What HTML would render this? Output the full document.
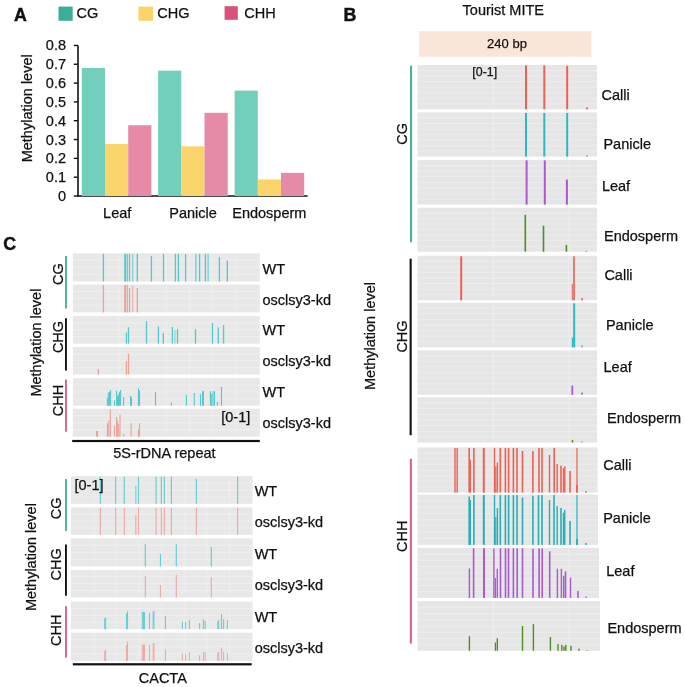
<!DOCTYPE html>
<html><head><meta charset="utf-8"><style>
html,body{margin:0;padding:0;background:#fff;width:685px;height:687px;overflow:hidden}
svg{display:block;will-change:transform}
text{font-family:"Liberation Sans", sans-serif;stroke:#111;stroke-width:0.25px}
</style></head><body>
<svg width="685" height="687" viewBox="0 0 685 687">
<rect width="685" height="687" fill="#fff"/>
<text x="14" y="20.9" font-size="17.8" text-anchor="start" font-weight="bold" fill="#111" style="stroke-width:0.45px" >A</text>
<text x="343.4" y="20.6" font-size="17.8" text-anchor="start" font-weight="bold" fill="#111" style="stroke-width:0.45px" >B</text>
<text x="3.2" y="250.4" font-size="17.8" text-anchor="start" font-weight="bold" fill="#111" style="stroke-width:0.45px" >C</text>
<rect x="58.50" y="6.60" width="14.20" height="14.20" fill="#3DAE96" />
<text x="76.5" y="17.8" font-size="14.5" text-anchor="start" font-weight="normal" fill="#111" >CG</text>
<rect x="138.40" y="6.60" width="14.60" height="14.20" fill="#F9D46B" />
<text x="157.3" y="17.8" font-size="14.5" text-anchor="start" font-weight="normal" fill="#111" >CHG</text>
<rect x="224.60" y="6.20" width="13.20" height="13.60" fill="#D9527C" />
<text x="244.2" y="17.8" font-size="14.5" text-anchor="start" font-weight="normal" fill="#111" >CHH</text>
<line x1="78.0" y1="45.44" x2="78.0" y2="196.70" stroke="#111" stroke-width="1.6"/>
<line x1="77.2" y1="196.0" x2="307.6" y2="196.0" stroke="#111" stroke-width="1.6"/>
<line x1="73.8" y1="196.00" x2="78.0" y2="196.00" stroke="#111" stroke-width="1.4"/>
<text x="66" y="201.0" font-size="14.5" text-anchor="end" font-weight="normal" fill="#111" >0</text>
<line x1="73.8" y1="177.18" x2="78.0" y2="177.18" stroke="#111" stroke-width="1.4"/>
<text x="66" y="182.18" font-size="14.5" text-anchor="end" font-weight="normal" fill="#111" >0.1</text>
<line x1="73.8" y1="158.36" x2="78.0" y2="158.36" stroke="#111" stroke-width="1.4"/>
<text x="66" y="163.36" font-size="14.5" text-anchor="end" font-weight="normal" fill="#111" >0.2</text>
<line x1="73.8" y1="139.54" x2="78.0" y2="139.54" stroke="#111" stroke-width="1.4"/>
<text x="66" y="144.54" font-size="14.5" text-anchor="end" font-weight="normal" fill="#111" >0.3</text>
<line x1="73.8" y1="120.72" x2="78.0" y2="120.72" stroke="#111" stroke-width="1.4"/>
<text x="66" y="125.72" font-size="14.5" text-anchor="end" font-weight="normal" fill="#111" >0.4</text>
<line x1="73.8" y1="101.90" x2="78.0" y2="101.90" stroke="#111" stroke-width="1.4"/>
<text x="66" y="106.9" font-size="14.5" text-anchor="end" font-weight="normal" fill="#111" >0.5</text>
<line x1="73.8" y1="83.08" x2="78.0" y2="83.08" stroke="#111" stroke-width="1.4"/>
<text x="66" y="88.08" font-size="14.5" text-anchor="end" font-weight="normal" fill="#111" >0.6</text>
<line x1="73.8" y1="64.26" x2="78.0" y2="64.26" stroke="#111" stroke-width="1.4"/>
<text x="66" y="69.25999999999999" font-size="14.5" text-anchor="end" font-weight="normal" fill="#111" >0.7</text>
<line x1="73.8" y1="45.44" x2="78.0" y2="45.44" stroke="#111" stroke-width="1.4"/>
<text x="66" y="50.44" font-size="14.5" text-anchor="end" font-weight="normal" fill="#111" >0.8</text>
<text x="0" y="0" transform="translate(31.5,108.3) rotate(-90)" font-size="14.5" text-anchor="middle" font-weight="normal" fill="#111" >Methylation level</text>
<rect x="81.80" y="68.02" width="23.20" height="127.98" fill="#72CFBC" />
<rect x="105.00" y="144.06" width="23.20" height="51.94" fill="#F9D56B" />
<rect x="128.20" y="125.24" width="23.20" height="70.76" fill="#E58BA8" />
<rect x="158.10" y="70.66" width="23.20" height="125.34" fill="#72CFBC" />
<rect x="181.30" y="146.32" width="23.20" height="49.68" fill="#F9D56B" />
<rect x="204.50" y="112.82" width="23.20" height="83.18" fill="#E58BA8" />
<rect x="234.60" y="90.61" width="23.20" height="105.39" fill="#72CFBC" />
<rect x="257.80" y="179.44" width="23.20" height="16.56" fill="#F9D56B" />
<rect x="281.00" y="172.85" width="23.20" height="23.15" fill="#E58BA8" />
<text x="117.2" y="217.8" font-size="14.5" text-anchor="middle" font-weight="normal" fill="#111" >Leaf</text>
<text x="193" y="217.8" font-size="14.5" text-anchor="middle" font-weight="normal" fill="#111" >Panicle</text>
<text x="269.3" y="217.8" font-size="14.5" text-anchor="middle" font-weight="normal" fill="#111" >Endosperm</text>
<text x="503.3" y="15.2" font-size="14.5" text-anchor="middle" font-weight="normal" fill="#111" >Tourist MITE</text>
<rect x="419.00" y="31.20" width="172.60" height="25.60" fill="#FAE5D9" />
<text x="507" y="47.9" font-size="13" text-anchor="middle" font-weight="normal" fill="#111" >240 bp</text>
<rect x="417.50" y="65.00" width="179.50" height="44.30" fill="#E6E6E6" />
<line x1="417.50" y1="70.54" x2="597.00" y2="70.54" stroke="#EDEDED" stroke-width="1"/>
<line x1="417.50" y1="76.08" x2="597.00" y2="76.08" stroke="#EDEDED" stroke-width="1"/>
<line x1="417.50" y1="81.61" x2="597.00" y2="81.61" stroke="#EDEDED" stroke-width="1"/>
<line x1="417.50" y1="87.15" x2="597.00" y2="87.15" stroke="#EDEDED" stroke-width="1"/>
<line x1="417.50" y1="92.69" x2="597.00" y2="92.69" stroke="#EDEDED" stroke-width="1"/>
<line x1="417.50" y1="98.22" x2="597.00" y2="98.22" stroke="#EDEDED" stroke-width="1"/>
<line x1="417.50" y1="103.76" x2="597.00" y2="103.76" stroke="#EDEDED" stroke-width="1"/>
<line x1="493.30" y1="65.00" x2="493.30" y2="109.30" stroke="#EEEEEE" stroke-width="1"/>
<line x1="568.90" y1="65.00" x2="568.90" y2="109.30" stroke="#EEEEEE" stroke-width="1"/>
<rect x="417.50" y="112.40" width="179.50" height="44.20" fill="#E6E6E6" />
<line x1="417.50" y1="117.93" x2="597.00" y2="117.93" stroke="#EDEDED" stroke-width="1"/>
<line x1="417.50" y1="123.45" x2="597.00" y2="123.45" stroke="#EDEDED" stroke-width="1"/>
<line x1="417.50" y1="128.97" x2="597.00" y2="128.97" stroke="#EDEDED" stroke-width="1"/>
<line x1="417.50" y1="134.50" x2="597.00" y2="134.50" stroke="#EDEDED" stroke-width="1"/>
<line x1="417.50" y1="140.03" x2="597.00" y2="140.03" stroke="#EDEDED" stroke-width="1"/>
<line x1="417.50" y1="145.55" x2="597.00" y2="145.55" stroke="#EDEDED" stroke-width="1"/>
<line x1="417.50" y1="151.07" x2="597.00" y2="151.07" stroke="#EDEDED" stroke-width="1"/>
<line x1="493.30" y1="112.40" x2="493.30" y2="156.60" stroke="#EEEEEE" stroke-width="1"/>
<line x1="568.90" y1="112.40" x2="568.90" y2="156.60" stroke="#EEEEEE" stroke-width="1"/>
<rect x="417.50" y="159.90" width="179.50" height="44.70" fill="#E6E6E6" />
<line x1="417.50" y1="165.49" x2="597.00" y2="165.49" stroke="#EDEDED" stroke-width="1"/>
<line x1="417.50" y1="171.07" x2="597.00" y2="171.07" stroke="#EDEDED" stroke-width="1"/>
<line x1="417.50" y1="176.66" x2="597.00" y2="176.66" stroke="#EDEDED" stroke-width="1"/>
<line x1="417.50" y1="182.25" x2="597.00" y2="182.25" stroke="#EDEDED" stroke-width="1"/>
<line x1="417.50" y1="187.84" x2="597.00" y2="187.84" stroke="#EDEDED" stroke-width="1"/>
<line x1="417.50" y1="193.43" x2="597.00" y2="193.43" stroke="#EDEDED" stroke-width="1"/>
<line x1="417.50" y1="199.01" x2="597.00" y2="199.01" stroke="#EDEDED" stroke-width="1"/>
<line x1="493.30" y1="159.90" x2="493.30" y2="204.60" stroke="#EEEEEE" stroke-width="1"/>
<line x1="568.90" y1="159.90" x2="568.90" y2="204.60" stroke="#EEEEEE" stroke-width="1"/>
<rect x="417.50" y="207.70" width="179.50" height="44.00" fill="#E6E6E6" />
<line x1="417.50" y1="213.20" x2="597.00" y2="213.20" stroke="#EDEDED" stroke-width="1"/>
<line x1="417.50" y1="218.70" x2="597.00" y2="218.70" stroke="#EDEDED" stroke-width="1"/>
<line x1="417.50" y1="224.20" x2="597.00" y2="224.20" stroke="#EDEDED" stroke-width="1"/>
<line x1="417.50" y1="229.70" x2="597.00" y2="229.70" stroke="#EDEDED" stroke-width="1"/>
<line x1="417.50" y1="235.20" x2="597.00" y2="235.20" stroke="#EDEDED" stroke-width="1"/>
<line x1="417.50" y1="240.70" x2="597.00" y2="240.70" stroke="#EDEDED" stroke-width="1"/>
<line x1="417.50" y1="246.20" x2="597.00" y2="246.20" stroke="#EDEDED" stroke-width="1"/>
<line x1="493.30" y1="207.70" x2="493.30" y2="251.70" stroke="#EEEEEE" stroke-width="1"/>
<line x1="568.90" y1="207.70" x2="568.90" y2="251.70" stroke="#EEEEEE" stroke-width="1"/>
<rect x="417.50" y="255.80" width="179.50" height="44.50" fill="#E6E6E6" />
<line x1="417.50" y1="261.36" x2="597.00" y2="261.36" stroke="#EDEDED" stroke-width="1"/>
<line x1="417.50" y1="266.93" x2="597.00" y2="266.93" stroke="#EDEDED" stroke-width="1"/>
<line x1="417.50" y1="272.49" x2="597.00" y2="272.49" stroke="#EDEDED" stroke-width="1"/>
<line x1="417.50" y1="278.05" x2="597.00" y2="278.05" stroke="#EDEDED" stroke-width="1"/>
<line x1="417.50" y1="283.61" x2="597.00" y2="283.61" stroke="#EDEDED" stroke-width="1"/>
<line x1="417.50" y1="289.18" x2="597.00" y2="289.18" stroke="#EDEDED" stroke-width="1"/>
<line x1="417.50" y1="294.74" x2="597.00" y2="294.74" stroke="#EDEDED" stroke-width="1"/>
<line x1="493.30" y1="255.80" x2="493.30" y2="300.30" stroke="#EEEEEE" stroke-width="1"/>
<line x1="568.90" y1="255.80" x2="568.90" y2="300.30" stroke="#EEEEEE" stroke-width="1"/>
<rect x="417.50" y="302.80" width="179.50" height="44.50" fill="#E6E6E6" />
<line x1="417.50" y1="308.36" x2="597.00" y2="308.36" stroke="#EDEDED" stroke-width="1"/>
<line x1="417.50" y1="313.93" x2="597.00" y2="313.93" stroke="#EDEDED" stroke-width="1"/>
<line x1="417.50" y1="319.49" x2="597.00" y2="319.49" stroke="#EDEDED" stroke-width="1"/>
<line x1="417.50" y1="325.05" x2="597.00" y2="325.05" stroke="#EDEDED" stroke-width="1"/>
<line x1="417.50" y1="330.61" x2="597.00" y2="330.61" stroke="#EDEDED" stroke-width="1"/>
<line x1="417.50" y1="336.18" x2="597.00" y2="336.18" stroke="#EDEDED" stroke-width="1"/>
<line x1="417.50" y1="341.74" x2="597.00" y2="341.74" stroke="#EDEDED" stroke-width="1"/>
<line x1="493.30" y1="302.80" x2="493.30" y2="347.30" stroke="#EEEEEE" stroke-width="1"/>
<line x1="568.90" y1="302.80" x2="568.90" y2="347.30" stroke="#EEEEEE" stroke-width="1"/>
<rect x="417.50" y="350.30" width="179.50" height="44.50" fill="#E6E6E6" />
<line x1="417.50" y1="355.86" x2="597.00" y2="355.86" stroke="#EDEDED" stroke-width="1"/>
<line x1="417.50" y1="361.43" x2="597.00" y2="361.43" stroke="#EDEDED" stroke-width="1"/>
<line x1="417.50" y1="366.99" x2="597.00" y2="366.99" stroke="#EDEDED" stroke-width="1"/>
<line x1="417.50" y1="372.55" x2="597.00" y2="372.55" stroke="#EDEDED" stroke-width="1"/>
<line x1="417.50" y1="378.11" x2="597.00" y2="378.11" stroke="#EDEDED" stroke-width="1"/>
<line x1="417.50" y1="383.68" x2="597.00" y2="383.68" stroke="#EDEDED" stroke-width="1"/>
<line x1="417.50" y1="389.24" x2="597.00" y2="389.24" stroke="#EDEDED" stroke-width="1"/>
<line x1="493.30" y1="350.30" x2="493.30" y2="394.80" stroke="#EEEEEE" stroke-width="1"/>
<line x1="568.90" y1="350.30" x2="568.90" y2="394.80" stroke="#EEEEEE" stroke-width="1"/>
<rect x="417.50" y="397.30" width="179.50" height="45.30" fill="#E6E6E6" />
<line x1="417.50" y1="402.96" x2="597.00" y2="402.96" stroke="#EDEDED" stroke-width="1"/>
<line x1="417.50" y1="408.62" x2="597.00" y2="408.62" stroke="#EDEDED" stroke-width="1"/>
<line x1="417.50" y1="414.29" x2="597.00" y2="414.29" stroke="#EDEDED" stroke-width="1"/>
<line x1="417.50" y1="419.95" x2="597.00" y2="419.95" stroke="#EDEDED" stroke-width="1"/>
<line x1="417.50" y1="425.61" x2="597.00" y2="425.61" stroke="#EDEDED" stroke-width="1"/>
<line x1="417.50" y1="431.28" x2="597.00" y2="431.28" stroke="#EDEDED" stroke-width="1"/>
<line x1="417.50" y1="436.94" x2="597.00" y2="436.94" stroke="#EDEDED" stroke-width="1"/>
<line x1="493.30" y1="397.30" x2="493.30" y2="442.60" stroke="#EEEEEE" stroke-width="1"/>
<line x1="568.90" y1="397.30" x2="568.90" y2="442.60" stroke="#EEEEEE" stroke-width="1"/>
<rect x="417.50" y="447.40" width="180.00" height="45.20" fill="#E6E6E6" />
<line x1="417.50" y1="453.05" x2="597.50" y2="453.05" stroke="#EDEDED" stroke-width="1"/>
<line x1="417.50" y1="458.70" x2="597.50" y2="458.70" stroke="#EDEDED" stroke-width="1"/>
<line x1="417.50" y1="464.35" x2="597.50" y2="464.35" stroke="#EDEDED" stroke-width="1"/>
<line x1="417.50" y1="470.00" x2="597.50" y2="470.00" stroke="#EDEDED" stroke-width="1"/>
<line x1="417.50" y1="475.65" x2="597.50" y2="475.65" stroke="#EDEDED" stroke-width="1"/>
<line x1="417.50" y1="481.30" x2="597.50" y2="481.30" stroke="#EDEDED" stroke-width="1"/>
<line x1="417.50" y1="486.95" x2="597.50" y2="486.95" stroke="#EDEDED" stroke-width="1"/>
<line x1="493.30" y1="447.40" x2="493.30" y2="492.60" stroke="#EEEEEE" stroke-width="1"/>
<line x1="568.90" y1="447.40" x2="568.90" y2="492.60" stroke="#EEEEEE" stroke-width="1"/>
<rect x="417.50" y="494.60" width="180.50" height="50.30" fill="#E6E6E6" />
<line x1="417.50" y1="500.89" x2="598.00" y2="500.89" stroke="#EDEDED" stroke-width="1"/>
<line x1="417.50" y1="507.18" x2="598.00" y2="507.18" stroke="#EDEDED" stroke-width="1"/>
<line x1="417.50" y1="513.46" x2="598.00" y2="513.46" stroke="#EDEDED" stroke-width="1"/>
<line x1="417.50" y1="519.75" x2="598.00" y2="519.75" stroke="#EDEDED" stroke-width="1"/>
<line x1="417.50" y1="526.04" x2="598.00" y2="526.04" stroke="#EDEDED" stroke-width="1"/>
<line x1="417.50" y1="532.33" x2="598.00" y2="532.33" stroke="#EDEDED" stroke-width="1"/>
<line x1="417.50" y1="538.61" x2="598.00" y2="538.61" stroke="#EDEDED" stroke-width="1"/>
<line x1="493.30" y1="494.60" x2="493.30" y2="544.90" stroke="#EEEEEE" stroke-width="1"/>
<line x1="568.90" y1="494.60" x2="568.90" y2="544.90" stroke="#EEEEEE" stroke-width="1"/>
<rect x="417.50" y="547.80" width="181.50" height="50.10" fill="#E6E6E6" />
<line x1="417.50" y1="554.06" x2="599.00" y2="554.06" stroke="#EDEDED" stroke-width="1"/>
<line x1="417.50" y1="560.32" x2="599.00" y2="560.32" stroke="#EDEDED" stroke-width="1"/>
<line x1="417.50" y1="566.59" x2="599.00" y2="566.59" stroke="#EDEDED" stroke-width="1"/>
<line x1="417.50" y1="572.85" x2="599.00" y2="572.85" stroke="#EDEDED" stroke-width="1"/>
<line x1="417.50" y1="579.11" x2="599.00" y2="579.11" stroke="#EDEDED" stroke-width="1"/>
<line x1="417.50" y1="585.38" x2="599.00" y2="585.38" stroke="#EDEDED" stroke-width="1"/>
<line x1="417.50" y1="591.64" x2="599.00" y2="591.64" stroke="#EDEDED" stroke-width="1"/>
<line x1="493.30" y1="547.80" x2="493.30" y2="597.90" stroke="#EEEEEE" stroke-width="1"/>
<line x1="568.90" y1="547.80" x2="568.90" y2="597.90" stroke="#EEEEEE" stroke-width="1"/>
<rect x="417.50" y="601.10" width="182.50" height="49.70" fill="#E6E6E6" />
<line x1="417.50" y1="607.31" x2="600.00" y2="607.31" stroke="#EDEDED" stroke-width="1"/>
<line x1="417.50" y1="613.52" x2="600.00" y2="613.52" stroke="#EDEDED" stroke-width="1"/>
<line x1="417.50" y1="619.74" x2="600.00" y2="619.74" stroke="#EDEDED" stroke-width="1"/>
<line x1="417.50" y1="625.95" x2="600.00" y2="625.95" stroke="#EDEDED" stroke-width="1"/>
<line x1="417.50" y1="632.16" x2="600.00" y2="632.16" stroke="#EDEDED" stroke-width="1"/>
<line x1="417.50" y1="638.38" x2="600.00" y2="638.38" stroke="#EDEDED" stroke-width="1"/>
<line x1="417.50" y1="644.59" x2="600.00" y2="644.59" stroke="#EDEDED" stroke-width="1"/>
<line x1="493.30" y1="601.10" x2="493.30" y2="650.80" stroke="#EEEEEE" stroke-width="1"/>
<line x1="568.90" y1="601.10" x2="568.90" y2="650.80" stroke="#EEEEEE" stroke-width="1"/>
<rect x="525.00" y="65.50" width="2.00" height="43.80" fill="#EE6152" />
<rect x="543.30" y="65.50" width="2.00" height="43.80" fill="#EE6152" />
<rect x="566.20" y="66.00" width="2.00" height="43.30" fill="#EE6152" />
<rect x="586.00" y="107.50" width="2.00" height="1.80" fill="#EE6152" />
<rect x="525.00" y="112.90" width="2.00" height="43.70" fill="#2DB9C3" />
<rect x="543.30" y="112.90" width="2.00" height="43.70" fill="#2DB9C3" />
<rect x="566.20" y="112.90" width="2.00" height="43.70" fill="#2DB9C3" />
<rect x="586.25" y="155.30" width="1.50" height="1.30" fill="#2DB9C3" />
<rect x="525.60" y="160.40" width="2.00" height="44.20" fill="#AC58D2" />
<rect x="543.80" y="160.40" width="2.00" height="44.20" fill="#AC58D2" />
<rect x="565.90" y="179.60" width="2.00" height="25.00" fill="#AC58D2" />
<rect x="524.50" y="214.80" width="1.60" height="36.90" fill="#4F8F1F" />
<rect x="542.70" y="225.70" width="1.60" height="26.00" fill="#4F8F1F" />
<rect x="565.60" y="244.90" width="1.60" height="6.80" fill="#4F8F1F" />
<rect x="585.80" y="250.80" width="1.20" height="0.90" fill="#4F8F1F" />
<text x="601.5" y="99.8" font-size="14.5" text-anchor="start" font-weight="normal" fill="#111" >Calli</text>
<text x="603.4" y="149.2" font-size="14.5" text-anchor="start" font-weight="normal" fill="#111" >Panicle</text>
<text x="601.9" y="191.3" font-size="14.5" text-anchor="start" font-weight="normal" fill="#111" >Leaf</text>
<text x="604.0" y="240.7" font-size="14.5" text-anchor="start" font-weight="normal" fill="#111" >Endosperm</text>
<rect x="460.20" y="256.30" width="2.00" height="44.00" fill="#EE6152" />
<rect x="573.00" y="256.30" width="2.00" height="44.00" fill="#EA7A70" />
<rect x="571.75" y="284.00" width="1.50" height="16.30" fill="#EA7A70" />
<rect x="581.25" y="298.00" width="1.50" height="2.30" fill="#EE6152" />
<rect x="573.20" y="303.30" width="2.00" height="44.00" fill="#2DB9C3" />
<rect x="571.85" y="337.50" width="1.50" height="9.80" fill="#2DB9C3" />
<rect x="581.25" y="345.50" width="1.50" height="1.80" fill="#2DB9C3" />
<rect x="571.40" y="385.60" width="1.80" height="9.20" fill="#AC58D2" />
<rect x="581.25" y="392.50" width="1.50" height="2.30" fill="#AC58D2" />
<rect x="571.75" y="440.00" width="1.50" height="2.60" fill="#4F8F1F" />
<rect x="581.50" y="441.50" width="1.00" height="1.10" fill="#4F8F1F" />
<text x="604.4" y="279.9" font-size="14.5" text-anchor="start" font-weight="normal" fill="#111" >Calli</text>
<text x="605.9" y="329.8" font-size="14.5" text-anchor="start" font-weight="normal" fill="#111" >Panicle</text>
<text x="603.5" y="371.9" font-size="14.5" text-anchor="start" font-weight="normal" fill="#111" >Leaf</text>
<text x="607.0" y="422.5" font-size="14.5" text-anchor="start" font-weight="normal" fill="#111" >Endosperm</text>
<rect x="454.30" y="447.90" width="1.40" height="44.70" fill="#EE6152" />
<rect x="456.50" y="447.90" width="1.40" height="44.70" fill="#EE6152" />
<rect x="468.40" y="447.90" width="1.60" height="44.70" fill="#EE6152" />
<rect x="469.80" y="459.70" width="1.20" height="32.90" fill="#EE6152" />
<rect x="473.10" y="447.90" width="1.60" height="44.70" fill="#EE6152" />
<rect x="482.80" y="447.90" width="2.00" height="44.70" fill="#EE6152" />
<rect x="493.80" y="447.90" width="1.40" height="44.70" fill="#EE6152" />
<rect x="495.20" y="466.30" width="1.20" height="26.30" fill="#EE6152" />
<rect x="496.70" y="462.60" width="1.40" height="30.00" fill="#EE6152" />
<rect x="499.50" y="447.90" width="1.60" height="44.70" fill="#EE6152" />
<rect x="504.60" y="447.90" width="1.60" height="44.70" fill="#EE6152" />
<rect x="507.80" y="447.90" width="1.60" height="44.70" fill="#EE6152" />
<rect x="512.60" y="447.90" width="1.60" height="44.70" fill="#EE6152" />
<rect x="516.20" y="447.90" width="1.60" height="44.70" fill="#EE6152" />
<rect x="521.70" y="451.00" width="1.60" height="41.60" fill="#EE6152" />
<rect x="532.10" y="451.10" width="1.60" height="41.50" fill="#EE6152" />
<rect x="538.20" y="447.90" width="1.60" height="44.70" fill="#EE6152" />
<rect x="541.20" y="447.90" width="1.60" height="44.70" fill="#EE6152" />
<rect x="548.80" y="455.00" width="1.40" height="37.60" fill="#EE6152" />
<rect x="553.40" y="447.90" width="1.60" height="44.70" fill="#EE6152" />
<rect x="556.50" y="464.00" width="1.40" height="28.60" fill="#EE6152" />
<rect x="560.20" y="465.70" width="1.60" height="26.90" fill="#EE6152" />
<rect x="562.80" y="468.00" width="1.40" height="24.60" fill="#EE6152" />
<rect x="564.10" y="466.30" width="1.40" height="26.30" fill="#EE6152" />
<rect x="569.20" y="471.00" width="1.60" height="21.60" fill="#EE6152" />
<rect x="576.10" y="447.90" width="1.80" height="44.70" fill="#F08A7E" />
<rect x="576.10" y="485.00" width="1.80" height="7.60" fill="#EE6152" />
<rect x="585.20" y="491.00" width="1.60" height="1.60" fill="#EE6152" />
<rect x="468.40" y="496.60" width="1.60" height="48.30" fill="#28AEB9" />
<rect x="469.80" y="500.00" width="1.20" height="44.90" fill="#28AEB9" />
<rect x="473.10" y="495.10" width="1.60" height="49.80" fill="#28AEB9" />
<rect x="482.80" y="495.10" width="2.00" height="49.80" fill="#28AEB9" />
<rect x="493.80" y="495.10" width="1.40" height="49.80" fill="#28AEB9" />
<rect x="495.20" y="517.00" width="1.20" height="27.90" fill="#28AEB9" />
<rect x="496.70" y="508.00" width="1.40" height="36.90" fill="#28AEB9" />
<rect x="499.50" y="495.10" width="1.60" height="49.80" fill="#28AEB9" />
<rect x="504.60" y="495.10" width="1.60" height="49.80" fill="#28AEB9" />
<rect x="507.80" y="495.10" width="1.60" height="49.80" fill="#28AEB9" />
<rect x="512.60" y="495.10" width="1.60" height="49.80" fill="#28AEB9" />
<rect x="516.20" y="495.10" width="1.60" height="49.80" fill="#28AEB9" />
<rect x="521.70" y="497.50" width="1.60" height="47.40" fill="#28AEB9" />
<rect x="532.10" y="495.80" width="1.60" height="49.10" fill="#28AEB9" />
<rect x="537.70" y="495.10" width="1.60" height="49.80" fill="#28AEB9" />
<rect x="541.20" y="495.10" width="1.60" height="49.80" fill="#28AEB9" />
<rect x="548.80" y="500.00" width="1.40" height="44.90" fill="#28AEB9" />
<rect x="553.20" y="495.10" width="1.60" height="49.80" fill="#28AEB9" />
<rect x="556.50" y="506.00" width="1.40" height="38.90" fill="#28AEB9" />
<rect x="560.20" y="507.90" width="1.60" height="37.00" fill="#28AEB9" />
<rect x="562.80" y="512.80" width="1.40" height="32.10" fill="#28AEB9" />
<rect x="564.00" y="510.00" width="1.40" height="34.90" fill="#28AEB9" />
<rect x="569.20" y="521.00" width="1.60" height="23.90" fill="#28AEB9" />
<rect x="576.10" y="495.10" width="1.80" height="49.80" fill="#5CC8D2" />
<rect x="576.10" y="539.00" width="1.80" height="5.90" fill="#28AEB9" />
<rect x="585.20" y="543.00" width="1.60" height="1.90" fill="#28AEB9" />
<rect x="468.70" y="568.50" width="1.40" height="29.40" fill="#AC58D2" />
<rect x="472.80" y="548.30" width="1.60" height="49.60" fill="#AC58D2" />
<rect x="483.00" y="548.30" width="2.00" height="49.60" fill="#AC58D2" />
<rect x="493.20" y="548.30" width="1.40" height="49.60" fill="#AC58D2" />
<rect x="494.80" y="578.00" width="1.20" height="19.90" fill="#AC58D2" />
<rect x="496.60" y="568.80" width="1.40" height="29.10" fill="#AC58D2" />
<rect x="499.70" y="548.30" width="1.60" height="49.60" fill="#AC58D2" />
<rect x="504.70" y="548.30" width="1.60" height="49.60" fill="#AC58D2" />
<rect x="507.70" y="548.30" width="1.60" height="49.60" fill="#AC58D2" />
<rect x="512.60" y="548.30" width="1.60" height="49.60" fill="#AC58D2" />
<rect x="516.40" y="548.30" width="1.60" height="49.60" fill="#AC58D2" />
<rect x="521.70" y="548.30" width="1.60" height="49.60" fill="#AC58D2" />
<rect x="532.20" y="548.70" width="1.60" height="49.20" fill="#AC58D2" />
<rect x="538.30" y="548.30" width="1.60" height="49.60" fill="#AC58D2" />
<rect x="541.40" y="548.30" width="1.60" height="49.60" fill="#AC58D2" />
<rect x="548.90" y="551.40" width="1.60" height="46.50" fill="#AC58D2" />
<rect x="556.70" y="568.80" width="1.40" height="29.10" fill="#AC58D2" />
<rect x="560.70" y="568.80" width="1.40" height="29.10" fill="#AC58D2" />
<rect x="563.00" y="575.80" width="1.40" height="22.10" fill="#AC58D2" />
<rect x="564.70" y="571.40" width="1.60" height="26.50" fill="#AC58D2" />
<rect x="569.80" y="577.60" width="1.40" height="20.30" fill="#AC58D2" />
<rect x="577.20" y="591.00" width="1.60" height="6.90" fill="#AC58D2" />
<rect x="585.50" y="596.50" width="1.40" height="1.40" fill="#AC58D2" />
<rect x="468.70" y="636.20" width="1.40" height="14.60" fill="#4F8F1F" />
<rect x="494.80" y="642.50" width="1.20" height="8.30" fill="#4F8F1F" />
<rect x="496.60" y="638.30" width="1.40" height="12.50" fill="#4F8F1F" />
<rect x="521.80" y="626.00" width="1.40" height="24.80" fill="#4F8F1F" />
<rect x="532.70" y="624.20" width="1.40" height="26.60" fill="#4F8F1F" />
<rect x="549.70" y="637.00" width="1.40" height="13.80" fill="#4F8F1F" />
<rect x="557.30" y="644.00" width="1.40" height="6.80" fill="#4F8F1F" />
<rect x="561.10" y="644.80" width="1.40" height="6.00" fill="#4F8F1F" />
<rect x="563.30" y="646.50" width="1.40" height="4.30" fill="#4F8F1F" />
<rect x="565.10" y="644.80" width="1.40" height="6.00" fill="#4F8F1F" />
<rect x="570.30" y="645.70" width="1.40" height="5.10" fill="#4F8F1F" />
<rect x="578.30" y="648.60" width="1.40" height="2.20" fill="#4F8F1F" />
<rect x="586.80" y="650.00" width="1.00" height="0.80" fill="#4F8F1F" />
<text x="603.2" y="469.5" font-size="14.5" text-anchor="start" font-weight="normal" fill="#111" >Calli</text>
<text x="603.2" y="523.0" font-size="14.5" text-anchor="start" font-weight="normal" fill="#111" >Panicle</text>
<text x="606.2" y="576.0" font-size="14.5" text-anchor="start" font-weight="normal" fill="#111" >Leaf</text>
<text x="607.4" y="632.6" font-size="14.5" text-anchor="start" font-weight="normal" fill="#111" >Endosperm</text>
<rect x="410.00" y="65.70" width="2.10" height="176.50" fill="#48B39B" />
<rect x="409.60" y="258.70" width="2.10" height="176.50" fill="#111111" />
<rect x="409.80" y="458.80" width="2.10" height="184.70" fill="#D9628A" />
<text x="0" y="0" transform="translate(406.6,133.8) rotate(-90)" font-size="14.5" text-anchor="middle" font-weight="normal" fill="#111" >CG</text>
<text x="0" y="0" transform="translate(406.6,336.5) rotate(-90)" font-size="14.5" text-anchor="middle" font-weight="normal" fill="#111" >CHG</text>
<text x="0" y="0" transform="translate(406.6,536.3) rotate(-90)" font-size="14.5" text-anchor="middle" font-weight="normal" fill="#111" >CHH</text>
<text x="0" y="0" transform="translate(375.0,336.0) rotate(-90)" font-size="14.5" text-anchor="middle" font-weight="normal" fill="#111" >Methylation level</text>
<rect x="72.90" y="253.30" width="186.90" height="28.20" fill="#E8E8E8" />
<line x1="72.90" y1="260.35" x2="259.80" y2="260.35" stroke="#EFEFEF" stroke-width="1"/>
<line x1="72.90" y1="267.40" x2="259.80" y2="267.40" stroke="#EFEFEF" stroke-width="1"/>
<line x1="72.90" y1="274.45" x2="259.80" y2="274.45" stroke="#EFEFEF" stroke-width="1"/>
<line x1="119.40" y1="253.30" x2="119.40" y2="281.50" stroke="#EEEEEE" stroke-width="1"/>
<line x1="166.30" y1="253.30" x2="166.30" y2="281.50" stroke="#EEEEEE" stroke-width="1"/>
<line x1="189.50" y1="253.30" x2="189.50" y2="281.50" stroke="#EEEEEE" stroke-width="1"/>
<line x1="212.90" y1="253.30" x2="212.90" y2="281.50" stroke="#EEEEEE" stroke-width="1"/>
<line x1="236.80" y1="253.30" x2="236.80" y2="281.50" stroke="#EEEEEE" stroke-width="1"/>
<rect x="72.90" y="284.50" width="186.90" height="27.90" fill="#E8E8E8" />
<line x1="72.90" y1="291.48" x2="259.80" y2="291.48" stroke="#EFEFEF" stroke-width="1"/>
<line x1="72.90" y1="298.45" x2="259.80" y2="298.45" stroke="#EFEFEF" stroke-width="1"/>
<line x1="72.90" y1="305.42" x2="259.80" y2="305.42" stroke="#EFEFEF" stroke-width="1"/>
<line x1="119.40" y1="284.50" x2="119.40" y2="312.40" stroke="#EEEEEE" stroke-width="1"/>
<line x1="166.30" y1="284.50" x2="166.30" y2="312.40" stroke="#EEEEEE" stroke-width="1"/>
<line x1="189.50" y1="284.50" x2="189.50" y2="312.40" stroke="#EEEEEE" stroke-width="1"/>
<line x1="212.90" y1="284.50" x2="212.90" y2="312.40" stroke="#EEEEEE" stroke-width="1"/>
<line x1="236.80" y1="284.50" x2="236.80" y2="312.40" stroke="#EEEEEE" stroke-width="1"/>
<rect x="72.90" y="316.00" width="186.90" height="27.60" fill="#E8E8E8" />
<line x1="72.90" y1="322.90" x2="259.80" y2="322.90" stroke="#EFEFEF" stroke-width="1"/>
<line x1="72.90" y1="329.80" x2="259.80" y2="329.80" stroke="#EFEFEF" stroke-width="1"/>
<line x1="72.90" y1="336.70" x2="259.80" y2="336.70" stroke="#EFEFEF" stroke-width="1"/>
<line x1="119.40" y1="316.00" x2="119.40" y2="343.60" stroke="#EEEEEE" stroke-width="1"/>
<line x1="166.30" y1="316.00" x2="166.30" y2="343.60" stroke="#EEEEEE" stroke-width="1"/>
<line x1="189.50" y1="316.00" x2="189.50" y2="343.60" stroke="#EEEEEE" stroke-width="1"/>
<line x1="212.90" y1="316.00" x2="212.90" y2="343.60" stroke="#EEEEEE" stroke-width="1"/>
<line x1="236.80" y1="316.00" x2="236.80" y2="343.60" stroke="#EEEEEE" stroke-width="1"/>
<rect x="72.90" y="347.10" width="186.90" height="27.40" fill="#E8E8E8" />
<line x1="72.90" y1="353.95" x2="259.80" y2="353.95" stroke="#EFEFEF" stroke-width="1"/>
<line x1="72.90" y1="360.80" x2="259.80" y2="360.80" stroke="#EFEFEF" stroke-width="1"/>
<line x1="72.90" y1="367.65" x2="259.80" y2="367.65" stroke="#EFEFEF" stroke-width="1"/>
<line x1="119.40" y1="347.10" x2="119.40" y2="374.50" stroke="#EEEEEE" stroke-width="1"/>
<line x1="166.30" y1="347.10" x2="166.30" y2="374.50" stroke="#EEEEEE" stroke-width="1"/>
<line x1="189.50" y1="347.10" x2="189.50" y2="374.50" stroke="#EEEEEE" stroke-width="1"/>
<line x1="212.90" y1="347.10" x2="212.90" y2="374.50" stroke="#EEEEEE" stroke-width="1"/>
<line x1="236.80" y1="347.10" x2="236.80" y2="374.50" stroke="#EEEEEE" stroke-width="1"/>
<rect x="72.90" y="378.20" width="186.90" height="27.50" fill="#E8E8E8" />
<line x1="72.90" y1="385.07" x2="259.80" y2="385.07" stroke="#EFEFEF" stroke-width="1"/>
<line x1="72.90" y1="391.95" x2="259.80" y2="391.95" stroke="#EFEFEF" stroke-width="1"/>
<line x1="72.90" y1="398.82" x2="259.80" y2="398.82" stroke="#EFEFEF" stroke-width="1"/>
<line x1="119.40" y1="378.20" x2="119.40" y2="405.70" stroke="#EEEEEE" stroke-width="1"/>
<line x1="166.30" y1="378.20" x2="166.30" y2="405.70" stroke="#EEEEEE" stroke-width="1"/>
<line x1="189.50" y1="378.20" x2="189.50" y2="405.70" stroke="#EEEEEE" stroke-width="1"/>
<line x1="212.90" y1="378.20" x2="212.90" y2="405.70" stroke="#EEEEEE" stroke-width="1"/>
<line x1="236.80" y1="378.20" x2="236.80" y2="405.70" stroke="#EEEEEE" stroke-width="1"/>
<rect x="72.90" y="408.70" width="186.90" height="28.00" fill="#E8E8E8" />
<line x1="72.90" y1="415.70" x2="259.80" y2="415.70" stroke="#EFEFEF" stroke-width="1"/>
<line x1="72.90" y1="422.70" x2="259.80" y2="422.70" stroke="#EFEFEF" stroke-width="1"/>
<line x1="72.90" y1="429.70" x2="259.80" y2="429.70" stroke="#EFEFEF" stroke-width="1"/>
<line x1="119.40" y1="408.70" x2="119.40" y2="436.70" stroke="#EEEEEE" stroke-width="1"/>
<line x1="166.30" y1="408.70" x2="166.30" y2="436.70" stroke="#EEEEEE" stroke-width="1"/>
<line x1="189.50" y1="408.70" x2="189.50" y2="436.70" stroke="#EEEEEE" stroke-width="1"/>
<line x1="212.90" y1="408.70" x2="212.90" y2="436.70" stroke="#EEEEEE" stroke-width="1"/>
<line x1="236.80" y1="408.70" x2="236.80" y2="436.70" stroke="#EEEEEE" stroke-width="1"/>
<rect x="102.75" y="253.80" width="1.30" height="27.70" fill="#56C7CD" />
<rect x="124.20" y="253.80" width="1.80" height="27.70" fill="#56C7CD" />
<rect x="126.60" y="253.80" width="1.20" height="27.70" fill="#56C7CD" />
<rect x="128.90" y="253.80" width="1.20" height="27.70" fill="#56C7CD" />
<rect x="131.80" y="253.80" width="1.60" height="27.70" fill="#8AD6DA" />
<rect x="136.65" y="253.80" width="1.30" height="27.70" fill="#56C7CD" />
<rect x="150.75" y="255.90" width="1.30" height="25.60" fill="#56C7CD" />
<rect x="162.85" y="253.80" width="1.30" height="27.70" fill="#56C7CD" />
<rect x="174.75" y="253.80" width="1.30" height="27.70" fill="#56C7CD" />
<rect x="177.75" y="253.80" width="1.30" height="27.70" fill="#56C7CD" />
<rect x="184.95" y="254.00" width="1.30" height="27.50" fill="#56C7CD" />
<rect x="195.00" y="253.80" width="1.80" height="27.70" fill="#8AD6DA" />
<rect x="198.95" y="253.80" width="1.30" height="27.70" fill="#56C7CD" />
<rect x="204.75" y="253.80" width="1.30" height="27.70" fill="#56C7CD" />
<rect x="207.40" y="253.80" width="1.60" height="27.70" fill="#8AD6DA" />
<rect x="218.75" y="256.90" width="1.30" height="24.60" fill="#56C7CD" />
<rect x="226.65" y="260.40" width="1.30" height="21.10" fill="#56C7CD" />
<rect x="102.75" y="285.00" width="1.30" height="27.40" fill="#EBA19C" />
<rect x="124.20" y="285.00" width="1.80" height="27.40" fill="#EBA19C" />
<rect x="126.70" y="285.00" width="1.20" height="27.40" fill="#EBA19C" />
<rect x="128.90" y="288.00" width="1.20" height="24.40" fill="#EBA19C" />
<rect x="131.80" y="285.00" width="1.60" height="27.40" fill="#F2BDB9" />
<rect x="136.65" y="288.00" width="1.30" height="24.40" fill="#EBA19C" />
<rect x="125.75" y="332.60" width="1.30" height="11.00" fill="#56C7CD" />
<rect x="127.85" y="327.30" width="1.30" height="16.30" fill="#56C7CD" />
<rect x="145.85" y="321.20" width="1.30" height="22.40" fill="#56C7CD" />
<rect x="157.75" y="326.50" width="1.30" height="17.10" fill="#56C7CD" />
<rect x="162.65" y="333.00" width="1.30" height="10.60" fill="#56C7CD" />
<rect x="171.75" y="327.00" width="1.30" height="16.60" fill="#56C7CD" />
<rect x="174.25" y="330.00" width="1.30" height="13.60" fill="#8FD8DC" />
<rect x="176.85" y="329.00" width="1.30" height="14.60" fill="#56C7CD" />
<rect x="194.85" y="329.00" width="1.30" height="14.60" fill="#56C7CD" />
<rect x="211.85" y="323.00" width="1.30" height="20.60" fill="#56C7CD" />
<rect x="217.65" y="327.30" width="1.30" height="16.30" fill="#56C7CD" />
<rect x="222.95" y="325.00" width="1.30" height="18.60" fill="#56C7CD" />
<rect x="97.65" y="368.90" width="1.30" height="5.60" fill="#EBA19C" />
<rect x="125.75" y="361.00" width="1.30" height="13.50" fill="#EBA19C" />
<rect x="127.85" y="353.70" width="1.30" height="20.80" fill="#EBA19C" />
<rect x="106.85" y="397.80" width="1.10" height="7.90" fill="#56C7CD" />
<rect x="107.75" y="392.60" width="1.10" height="13.10" fill="#56C7CD" />
<rect x="108.95" y="391.70" width="1.10" height="14.00" fill="#56C7CD" />
<rect x="110.05" y="390.30" width="1.10" height="15.40" fill="#56C7CD" />
<rect x="113.95" y="400.40" width="1.10" height="5.30" fill="#56C7CD" />
<rect x="116.05" y="390.80" width="1.10" height="14.90" fill="#56C7CD" />
<rect x="117.05" y="396.00" width="1.10" height="9.70" fill="#56C7CD" />
<rect x="117.95" y="394.30" width="1.10" height="11.40" fill="#56C7CD" />
<rect x="118.85" y="391.70" width="1.10" height="14.00" fill="#56C7CD" />
<rect x="120.05" y="390.00" width="1.10" height="15.70" fill="#56C7CD" />
<rect x="123.05" y="397.00" width="1.10" height="8.70" fill="#56C7CD" />
<rect x="130.05" y="396.00" width="1.10" height="9.70" fill="#56C7CD" />
<rect x="130.95" y="397.50" width="1.10" height="8.20" fill="#56C7CD" />
<rect x="137.95" y="388.20" width="1.10" height="17.50" fill="#56C7CD" />
<rect x="138.95" y="390.80" width="1.10" height="14.90" fill="#56C7CD" />
<rect x="154.95" y="392.00" width="1.10" height="13.70" fill="#56C7CD" />
<rect x="170.85" y="402.70" width="1.10" height="3.00" fill="#56C7CD" />
<rect x="185.85" y="394.80" width="1.10" height="10.90" fill="#56C7CD" />
<rect x="193.75" y="393.00" width="1.10" height="12.70" fill="#56C7CD" />
<rect x="199.95" y="394.30" width="1.10" height="11.40" fill="#56C7CD" />
<rect x="202.05" y="391.30" width="1.10" height="14.40" fill="#56C7CD" />
<rect x="202.85" y="391.00" width="1.10" height="14.70" fill="#56C7CD" />
<rect x="209.85" y="391.20" width="1.10" height="14.50" fill="#56C7CD" />
<rect x="211.15" y="394.00" width="1.10" height="11.70" fill="#56C7CD" />
<rect x="212.45" y="391.20" width="1.10" height="14.50" fill="#56C7CD" />
<rect x="213.95" y="391.20" width="1.10" height="14.50" fill="#56C7CD" />
<rect x="216.85" y="401.80" width="1.10" height="3.90" fill="#56C7CD" />
<rect x="220.95" y="387.00" width="1.10" height="18.70" fill="#56C7CD" />
<rect x="96.05" y="431.00" width="1.10" height="5.70" fill="#EBA19C" />
<rect x="96.95" y="431.00" width="1.10" height="5.70" fill="#EBA19C" />
<rect x="106.85" y="423.20" width="1.10" height="13.50" fill="#EBA19C" />
<rect x="108.25" y="420.60" width="1.10" height="16.10" fill="#EBA19C" />
<rect x="109.75" y="409.20" width="1.10" height="27.50" fill="#EBA19C" />
<rect x="113.95" y="425.80" width="1.10" height="10.90" fill="#EBA19C" />
<rect x="116.05" y="417.00" width="1.10" height="19.70" fill="#EBA19C" />
<rect x="117.05" y="420.60" width="1.10" height="16.10" fill="#EBA19C" />
<rect x="118.25" y="424.00" width="1.10" height="12.70" fill="#EBA19C" />
<rect x="119.45" y="414.50" width="1.10" height="22.20" fill="#EBA19C" />
<rect x="123.15" y="433.70" width="1.10" height="3.00" fill="#EBA19C" />
<rect x="130.55" y="423.20" width="1.10" height="13.50" fill="#EBA19C" />
<rect x="137.95" y="429.30" width="1.10" height="7.40" fill="#EBA19C" />
<rect x="138.95" y="423.20" width="1.10" height="13.50" fill="#EBA19C" />
<text x="262.5" y="274.1" font-size="14.5" text-anchor="start" font-weight="normal" fill="#111" >WT</text>
<text x="262.5" y="304.6" font-size="14.5" text-anchor="start" font-weight="normal" fill="#111" >osclsy3-kd</text>
<text x="262.5" y="335.3" font-size="14.5" text-anchor="start" font-weight="normal" fill="#111" >WT</text>
<text x="262.5" y="365.8" font-size="14.5" text-anchor="start" font-weight="normal" fill="#111" >osclsy3-kd</text>
<text x="262.5" y="396.8" font-size="14.5" text-anchor="start" font-weight="normal" fill="#111" >WT</text>
<text x="262.5" y="427.8" font-size="14.5" text-anchor="start" font-weight="normal" fill="#111" >osclsy3-kd</text>
<rect x="65.00" y="255.90" width="1.90" height="52.60" fill="#48B39B" />
<rect x="65.00" y="318.20" width="1.90" height="52.30" fill="#111111" />
<rect x="65.00" y="379.60" width="1.90" height="52.10" fill="#D9628A" />
<text x="0" y="0" transform="translate(63.3,274.0) rotate(-90)" font-size="14.5" text-anchor="middle" font-weight="normal" fill="#111" >CG</text>
<text x="0" y="0" transform="translate(63.3,337.0) rotate(-90)" font-size="14.5" text-anchor="middle" font-weight="normal" fill="#111" >CHG</text>
<text x="0" y="0" transform="translate(63.3,400.6) rotate(-90)" font-size="14.5" text-anchor="middle" font-weight="normal" fill="#111" >CHH</text>
<text x="0" y="0" transform="translate(40.8,342.6) rotate(-90)" font-size="14.5" text-anchor="middle" font-weight="normal" fill="#111" >Methylation level</text>
<rect x="72.20" y="439.90" width="187.60" height="2.20" fill="#111" />
<text x="164.4" y="458.3" font-size="14.5" text-anchor="middle" font-weight="normal" fill="#111" >5S-rDNA repeat</text>
<text x="235.8" y="421.9" font-size="14.5" text-anchor="middle" font-weight="normal" fill="#111" >[0-1]</text>
<rect x="70.80" y="476.10" width="181.70" height="27.70" fill="#E8E8E8" />
<line x1="70.80" y1="483.03" x2="252.50" y2="483.03" stroke="#EFEFEF" stroke-width="1"/>
<line x1="70.80" y1="489.95" x2="252.50" y2="489.95" stroke="#EFEFEF" stroke-width="1"/>
<line x1="70.80" y1="496.88" x2="252.50" y2="496.88" stroke="#EFEFEF" stroke-width="1"/>
<line x1="93.80" y1="476.10" x2="93.80" y2="503.80" stroke="#EEEEEE" stroke-width="1"/>
<line x1="116.40" y1="476.10" x2="116.40" y2="503.80" stroke="#EEEEEE" stroke-width="1"/>
<line x1="139.00" y1="476.10" x2="139.00" y2="503.80" stroke="#EEEEEE" stroke-width="1"/>
<line x1="161.60" y1="476.10" x2="161.60" y2="503.80" stroke="#EEEEEE" stroke-width="1"/>
<line x1="184.20" y1="476.10" x2="184.20" y2="503.80" stroke="#EEEEEE" stroke-width="1"/>
<line x1="206.80" y1="476.10" x2="206.80" y2="503.80" stroke="#EEEEEE" stroke-width="1"/>
<line x1="229.40" y1="476.10" x2="229.40" y2="503.80" stroke="#EEEEEE" stroke-width="1"/>
<rect x="70.80" y="507.30" width="181.70" height="27.50" fill="#E8E8E8" />
<line x1="70.80" y1="514.17" x2="252.50" y2="514.17" stroke="#EFEFEF" stroke-width="1"/>
<line x1="70.80" y1="521.05" x2="252.50" y2="521.05" stroke="#EFEFEF" stroke-width="1"/>
<line x1="70.80" y1="527.92" x2="252.50" y2="527.92" stroke="#EFEFEF" stroke-width="1"/>
<line x1="93.80" y1="507.30" x2="93.80" y2="534.80" stroke="#EEEEEE" stroke-width="1"/>
<line x1="116.40" y1="507.30" x2="116.40" y2="534.80" stroke="#EEEEEE" stroke-width="1"/>
<line x1="139.00" y1="507.30" x2="139.00" y2="534.80" stroke="#EEEEEE" stroke-width="1"/>
<line x1="161.60" y1="507.30" x2="161.60" y2="534.80" stroke="#EEEEEE" stroke-width="1"/>
<line x1="184.20" y1="507.30" x2="184.20" y2="534.80" stroke="#EEEEEE" stroke-width="1"/>
<line x1="206.80" y1="507.30" x2="206.80" y2="534.80" stroke="#EEEEEE" stroke-width="1"/>
<line x1="229.40" y1="507.30" x2="229.40" y2="534.80" stroke="#EEEEEE" stroke-width="1"/>
<rect x="70.80" y="538.30" width="181.70" height="28.10" fill="#E8E8E8" />
<line x1="70.80" y1="545.32" x2="252.50" y2="545.32" stroke="#EFEFEF" stroke-width="1"/>
<line x1="70.80" y1="552.35" x2="252.50" y2="552.35" stroke="#EFEFEF" stroke-width="1"/>
<line x1="70.80" y1="559.38" x2="252.50" y2="559.38" stroke="#EFEFEF" stroke-width="1"/>
<line x1="93.80" y1="538.30" x2="93.80" y2="566.40" stroke="#EEEEEE" stroke-width="1"/>
<line x1="116.40" y1="538.30" x2="116.40" y2="566.40" stroke="#EEEEEE" stroke-width="1"/>
<line x1="139.00" y1="538.30" x2="139.00" y2="566.40" stroke="#EEEEEE" stroke-width="1"/>
<line x1="161.60" y1="538.30" x2="161.60" y2="566.40" stroke="#EEEEEE" stroke-width="1"/>
<line x1="184.20" y1="538.30" x2="184.20" y2="566.40" stroke="#EEEEEE" stroke-width="1"/>
<line x1="206.80" y1="538.30" x2="206.80" y2="566.40" stroke="#EEEEEE" stroke-width="1"/>
<line x1="229.40" y1="538.30" x2="229.40" y2="566.40" stroke="#EEEEEE" stroke-width="1"/>
<rect x="70.80" y="569.90" width="181.70" height="27.50" fill="#E8E8E8" />
<line x1="70.80" y1="576.77" x2="252.50" y2="576.77" stroke="#EFEFEF" stroke-width="1"/>
<line x1="70.80" y1="583.65" x2="252.50" y2="583.65" stroke="#EFEFEF" stroke-width="1"/>
<line x1="70.80" y1="590.52" x2="252.50" y2="590.52" stroke="#EFEFEF" stroke-width="1"/>
<line x1="93.80" y1="569.90" x2="93.80" y2="597.40" stroke="#EEEEEE" stroke-width="1"/>
<line x1="116.40" y1="569.90" x2="116.40" y2="597.40" stroke="#EEEEEE" stroke-width="1"/>
<line x1="139.00" y1="569.90" x2="139.00" y2="597.40" stroke="#EEEEEE" stroke-width="1"/>
<line x1="161.60" y1="569.90" x2="161.60" y2="597.40" stroke="#EEEEEE" stroke-width="1"/>
<line x1="184.20" y1="569.90" x2="184.20" y2="597.40" stroke="#EEEEEE" stroke-width="1"/>
<line x1="206.80" y1="569.90" x2="206.80" y2="597.40" stroke="#EEEEEE" stroke-width="1"/>
<line x1="229.40" y1="569.90" x2="229.40" y2="597.40" stroke="#EEEEEE" stroke-width="1"/>
<rect x="70.80" y="601.60" width="181.70" height="27.50" fill="#E8E8E8" />
<line x1="70.80" y1="608.48" x2="252.50" y2="608.48" stroke="#EFEFEF" stroke-width="1"/>
<line x1="70.80" y1="615.35" x2="252.50" y2="615.35" stroke="#EFEFEF" stroke-width="1"/>
<line x1="70.80" y1="622.23" x2="252.50" y2="622.23" stroke="#EFEFEF" stroke-width="1"/>
<line x1="93.80" y1="601.60" x2="93.80" y2="629.10" stroke="#EEEEEE" stroke-width="1"/>
<line x1="116.40" y1="601.60" x2="116.40" y2="629.10" stroke="#EEEEEE" stroke-width="1"/>
<line x1="139.00" y1="601.60" x2="139.00" y2="629.10" stroke="#EEEEEE" stroke-width="1"/>
<line x1="161.60" y1="601.60" x2="161.60" y2="629.10" stroke="#EEEEEE" stroke-width="1"/>
<line x1="184.20" y1="601.60" x2="184.20" y2="629.10" stroke="#EEEEEE" stroke-width="1"/>
<line x1="206.80" y1="601.60" x2="206.80" y2="629.10" stroke="#EEEEEE" stroke-width="1"/>
<line x1="229.40" y1="601.60" x2="229.40" y2="629.10" stroke="#EEEEEE" stroke-width="1"/>
<rect x="70.80" y="632.70" width="181.70" height="28.20" fill="#E8E8E8" />
<line x1="70.80" y1="639.75" x2="252.50" y2="639.75" stroke="#EFEFEF" stroke-width="1"/>
<line x1="70.80" y1="646.80" x2="252.50" y2="646.80" stroke="#EFEFEF" stroke-width="1"/>
<line x1="70.80" y1="653.85" x2="252.50" y2="653.85" stroke="#EFEFEF" stroke-width="1"/>
<line x1="93.80" y1="632.70" x2="93.80" y2="660.90" stroke="#EEEEEE" stroke-width="1"/>
<line x1="116.40" y1="632.70" x2="116.40" y2="660.90" stroke="#EEEEEE" stroke-width="1"/>
<line x1="139.00" y1="632.70" x2="139.00" y2="660.90" stroke="#EEEEEE" stroke-width="1"/>
<line x1="161.60" y1="632.70" x2="161.60" y2="660.90" stroke="#EEEEEE" stroke-width="1"/>
<line x1="184.20" y1="632.70" x2="184.20" y2="660.90" stroke="#EEEEEE" stroke-width="1"/>
<line x1="206.80" y1="632.70" x2="206.80" y2="660.90" stroke="#EEEEEE" stroke-width="1"/>
<line x1="229.40" y1="632.70" x2="229.40" y2="660.90" stroke="#EEEEEE" stroke-width="1"/>
<rect x="99.80" y="476.60" width="1.20" height="27.20" fill="#6CCDD2" />
<rect x="115.10" y="476.60" width="1.20" height="27.20" fill="#6CCDD2" />
<rect x="123.70" y="476.60" width="1.20" height="27.20" fill="#6CCDD2" />
<rect x="137.90" y="476.60" width="1.20" height="27.20" fill="#6CCDD2" />
<rect x="155.50" y="476.60" width="1.20" height="27.20" fill="#6CCDD2" />
<rect x="160.80" y="476.60" width="1.20" height="27.20" fill="#6CCDD2" />
<rect x="163.80" y="476.60" width="1.20" height="27.20" fill="#6CCDD2" />
<rect x="170.80" y="476.60" width="1.20" height="27.20" fill="#6CCDD2" />
<rect x="237.00" y="476.60" width="1.20" height="27.20" fill="#6CCDD2" />
<rect x="135.10" y="486.10" width="1.40" height="17.70" fill="#8AD6DA" />
<rect x="195.80" y="479.00" width="1.20" height="24.80" fill="#6CCDD2" />
<rect x="99.80" y="507.80" width="1.20" height="27.00" fill="#EDACA8" />
<rect x="115.10" y="507.80" width="1.20" height="27.00" fill="#EDACA8" />
<rect x="123.70" y="507.80" width="1.20" height="27.00" fill="#EDACA8" />
<rect x="137.90" y="507.80" width="1.20" height="27.00" fill="#EDACA8" />
<rect x="155.50" y="507.80" width="1.20" height="27.00" fill="#EDACA8" />
<rect x="160.80" y="507.80" width="1.20" height="27.00" fill="#EDACA8" />
<rect x="163.80" y="507.80" width="1.20" height="27.00" fill="#EDACA8" />
<rect x="170.80" y="507.80" width="1.20" height="27.00" fill="#EDACA8" />
<rect x="237.00" y="507.80" width="1.20" height="27.00" fill="#EDACA8" />
<rect x="135.10" y="515.20" width="1.40" height="19.60" fill="#F2B3AC" />
<rect x="195.80" y="507.80" width="1.20" height="27.00" fill="#EDACA8" />
<rect x="144.70" y="544.10" width="1.20" height="22.30" fill="#6CCDD2" />
<rect x="159.90" y="554.00" width="1.20" height="12.40" fill="#6CCDD2" />
<rect x="175.70" y="544.00" width="1.20" height="22.40" fill="#6CCDD2" />
<rect x="210.70" y="547.00" width="1.20" height="19.40" fill="#6CCDD2" />
<rect x="144.70" y="576.00" width="1.20" height="21.40" fill="#EDACA8" />
<rect x="159.90" y="585.00" width="1.20" height="12.40" fill="#EDACA8" />
<rect x="175.70" y="575.00" width="1.20" height="22.40" fill="#EDACA8" />
<rect x="210.70" y="577.20" width="1.20" height="20.20" fill="#EDACA8" />
<rect x="104.15" y="618.20" width="1.10" height="10.90" fill="#6CCDD2" />
<rect x="105.05" y="617.50" width="1.10" height="11.60" fill="#6CCDD2" />
<rect x="125.95" y="613.60" width="1.10" height="15.50" fill="#6CCDD2" />
<rect x="126.95" y="611.20" width="1.10" height="17.90" fill="#6CCDD2" />
<rect x="141.75" y="611.80" width="1.10" height="17.30" fill="#6CCDD2" />
<rect x="142.95" y="611.80" width="1.10" height="17.30" fill="#6CCDD2" />
<rect x="143.95" y="612.00" width="1.10" height="17.10" fill="#6CCDD2" />
<rect x="148.95" y="613.20" width="1.10" height="15.90" fill="#6CCDD2" />
<rect x="152.65" y="611.40" width="1.10" height="17.70" fill="#6CCDD2" />
<rect x="153.35" y="611.00" width="1.10" height="18.10" fill="#6CCDD2" />
<rect x="164.85" y="615.90" width="1.10" height="13.20" fill="#6CCDD2" />
<rect x="181.85" y="621.50" width="1.10" height="7.60" fill="#6CCDD2" />
<rect x="185.05" y="622.00" width="1.10" height="7.10" fill="#6CCDD2" />
<rect x="188.85" y="620.10" width="1.10" height="9.00" fill="#6CCDD2" />
<rect x="199.05" y="622.90" width="1.10" height="6.20" fill="#6CCDD2" />
<rect x="202.85" y="619.40" width="1.10" height="9.70" fill="#6CCDD2" />
<rect x="204.65" y="620.70" width="1.10" height="8.40" fill="#6CCDD2" />
<rect x="217.25" y="621.50" width="1.10" height="7.60" fill="#6CCDD2" />
<rect x="218.15" y="619.80" width="1.10" height="9.30" fill="#6CCDD2" />
<rect x="220.95" y="614.00" width="1.10" height="15.10" fill="#6CCDD2" />
<rect x="223.05" y="619.30" width="1.10" height="9.80" fill="#6CCDD2" />
<rect x="226.85" y="620.10" width="1.10" height="9.00" fill="#6CCDD2" />
<rect x="104.15" y="650.60" width="1.10" height="10.30" fill="#EDACA8" />
<rect x="105.05" y="649.70" width="1.10" height="11.20" fill="#EDACA8" />
<rect x="125.95" y="645.00" width="1.10" height="15.90" fill="#EDACA8" />
<rect x="126.95" y="641.40" width="1.10" height="19.50" fill="#EDACA8" />
<rect x="141.75" y="644.50" width="1.10" height="16.40" fill="#EDACA8" />
<rect x="142.95" y="644.50" width="1.10" height="16.40" fill="#EDACA8" />
<rect x="143.95" y="644.50" width="1.10" height="16.40" fill="#EDACA8" />
<rect x="148.95" y="645.00" width="1.10" height="15.90" fill="#EDACA8" />
<rect x="152.65" y="643.40" width="1.10" height="17.50" fill="#EDACA8" />
<rect x="153.35" y="643.00" width="1.10" height="17.90" fill="#EDACA8" />
<rect x="164.85" y="649.20" width="1.10" height="11.70" fill="#EDACA8" />
<rect x="181.85" y="653.40" width="1.10" height="7.50" fill="#EDACA8" />
<rect x="185.05" y="654.30" width="1.10" height="6.60" fill="#EDACA8" />
<rect x="188.85" y="652.20" width="1.10" height="8.70" fill="#EDACA8" />
<rect x="199.05" y="655.20" width="1.10" height="5.70" fill="#EDACA8" />
<rect x="202.85" y="652.20" width="1.10" height="8.70" fill="#EDACA8" />
<rect x="204.65" y="652.20" width="1.10" height="8.70" fill="#EDACA8" />
<rect x="217.25" y="652.50" width="1.10" height="8.40" fill="#EDACA8" />
<rect x="218.15" y="652.00" width="1.10" height="8.90" fill="#EDACA8" />
<rect x="220.95" y="647.50" width="1.10" height="13.40" fill="#EDACA8" />
<rect x="223.05" y="651.70" width="1.10" height="9.20" fill="#EDACA8" />
<rect x="226.85" y="653.00" width="1.10" height="7.90" fill="#EDACA8" />
<text x="254.7" y="495.8" font-size="14.5" text-anchor="start" font-weight="normal" fill="#111" >WT</text>
<text x="254.7" y="526.8" font-size="14.5" text-anchor="start" font-weight="normal" fill="#111" >osclsy3-kd</text>
<text x="254.7" y="558.6" font-size="14.5" text-anchor="start" font-weight="normal" fill="#111" >WT</text>
<text x="254.7" y="589.6" font-size="14.5" text-anchor="start" font-weight="normal" fill="#111" >osclsy3-kd</text>
<text x="254.7" y="621.8" font-size="14.5" text-anchor="start" font-weight="normal" fill="#111" >WT</text>
<text x="254.7" y="652.8" font-size="14.5" text-anchor="start" font-weight="normal" fill="#111" >osclsy3-kd</text>
<rect x="65.00" y="479.10" width="1.90" height="51.90" fill="#48B39B" />
<rect x="65.00" y="544.50" width="1.90" height="51.20" fill="#111111" />
<rect x="65.00" y="606.20" width="1.90" height="51.40" fill="#D9628A" />
<text x="0" y="0" transform="translate(60.8,508.3) rotate(-90)" font-size="14.5" text-anchor="middle" font-weight="normal" fill="#111" >CG</text>
<text x="0" y="0" transform="translate(60.8,564.4) rotate(-90)" font-size="14.5" text-anchor="middle" font-weight="normal" fill="#111" >CHG</text>
<text x="0" y="0" transform="translate(60.8,630.2) rotate(-90)" font-size="14.5" text-anchor="middle" font-weight="normal" fill="#111" >CHH</text>
<text x="0" y="0" transform="translate(35.7,557.1) rotate(-90)" font-size="14.5" text-anchor="middle" font-weight="normal" fill="#111" >Methylation level</text>
<rect x="72.80" y="663.20" width="178.90" height="2.20" fill="#111" />
<text x="162.8" y="683.3" font-size="14.5" text-anchor="middle" font-weight="normal" fill="#111" >CACTA</text>
<text x="89.0" y="489.7" font-size="14.5" text-anchor="middle" font-weight="normal" fill="#111" >[0-1]</text>
<text x="484.7" y="76.4" font-size="12.4" text-anchor="middle" font-weight="normal" fill="#111" >[0-1]</text>
</svg></body></html>
